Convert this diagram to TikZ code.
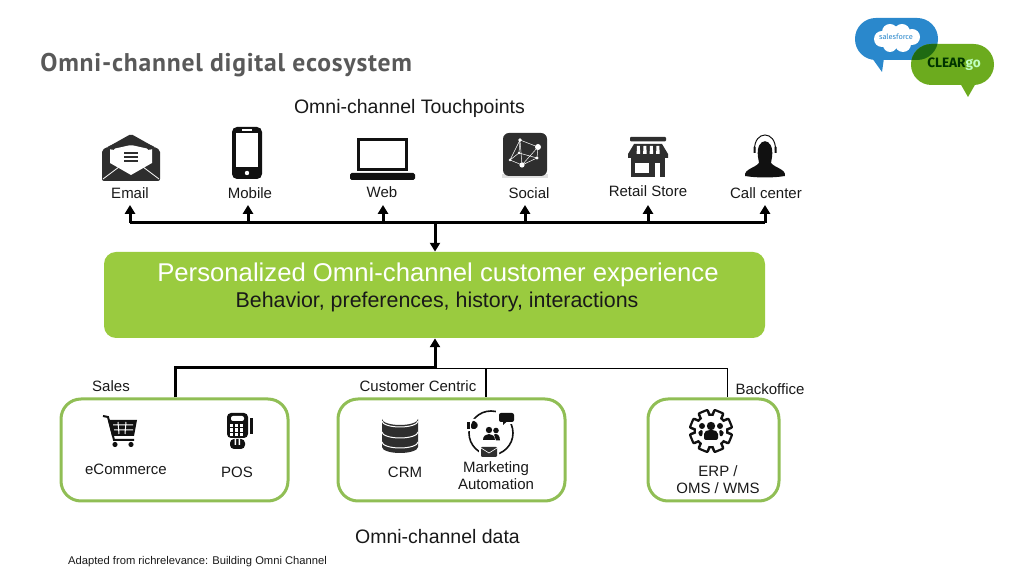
\documentclass[tikz,border=0pt]{standalone}
\usepackage{fontspec}
\setmainfont{Liberation Sans}
\newfontfamily\titleFont{PT Sans}[LetterSpace=3]
\newfontfamily\logoFont{Fira Sans}
\usetikzlibrary{arrows.meta, positioning}
\definecolor{expGreen}{HTML}{9ACB3F}
\definecolor{boxGreen}{HTML}{90BE55}
\definecolor{icon}{HTML}{111111}
\definecolor{iconGrey}{HTML}{2E2E2E}
\definecolor{sfBlue}{HTML}{2A88CC}
\definecolor{cgGreen}{HTML}{6CAB1E}
\definecolor{cgDark}{HTML}{1F6A12}
\tikzset{
    point/.style    = {coordinate},
    to/.style       = {-{Triangle[width=5pt,length=4.4pt]}, line width=1.5pt},
    bus/.style      = {line width=1.5pt},
    thin bus/.style = {line width=.5pt},
    label/.style    = {inner sep=0pt, font=\fontsize{7.5}{8.6}\selectfont, text=black!90, align=center},
    head/.style     = {inner sep=0pt, font=\fontsize{9.75}{11}\selectfont, text=black!90},
    group/.style    = {draw=boxGreen, line width=1.5pt, rounded corners=10pt, minimum height=51pt},
    pics/mail/.style = {code={
        \fill[iconGrey, rounded corners=1pt] (-29,-8) -- (-20,-13) -- (20,-13) -- (29,-8) -- (29,23) -- (-29,23) -- cycle;
        \fill[white] (-29,-13) -- (-21,-11) -- (21,-11) -- (29,-13) -- (21,-9) -- (21,5) -- (0,17) -- (-21,5) -- (-21,-9) -- cycle;
        \fill[iconGrey, rounded corners=1pt] (-25,-10) -- (0,-24) -- (25,-10) -- (18,-8) -- (-18,-8) -- cycle;
        \fill[white, rounded corners=1pt] (-18,-9) -- (0,-13) -- (18,-9) -- (18,5) -- (0,15) -- (-18,5) -- cycle;
        \foreach \y in {-5,-1,3} \draw[iconGrey, line width=.7pt] (-7,\y) -- (7,\y);
        \draw[white, line width=.4pt] (-28,21) -- (-12,9) (28,21) -- (12,9);
    }},
    pics/phone/.style = {code={
        \fill[icon, rounded corners=2.5pt] (-15,-26) rectangle (15,26);
        \fill[white] (-11,-20) rectangle (11,14);
        \draw[white, line width=.6pt] (-5,-23) -- (5,-23);
        \fill[white] (0,20) circle (2.2);
    }},
    pics/laptop/.style = {code={
        \draw[icon, line width=1.5pt] (-24,-17) rectangle (24,13);
        \fill[icon, rounded corners=.8pt] (-32,16) rectangle (33,23);
    }},
    pics/social/.style = {code={
        \fill[black!12] (-23,19) rectangle (23,23);
        \fill[iconGrey, rounded corners=3pt] (-22,-22) rectangle (22,21);
        \draw[white, line width=.25pt] (-15,5) -- (-5,-15) -- (13,-8) -- (-3,10) -- cycle
            (-5,-15) -- (-3,10) -- (12,3) -- (13,-8) (-15,5) -- (-6,-2) -- (12,3) (-6,-2) -- (-5,-15);
        \foreach \a/\b/\r in {-15/5/1.4,-5/-15/1.8,13/-8/3,-3/10/2.6,12/3/1.6,-6/-2/1.3}
            \fill[white] (\a,\b) circle (\r);
    }},
    pics/store/.style = {code={
        \fill[iconGrey, rounded corners=.5pt] (-18,-20) rectangle (18,-15.5);
        \fill[iconGrey] (-14,-13) -- (14,-13) -- (20,-3) -- (20,1) -- (-20,1) -- (-20,-3) -- cycle;
        \foreach \x in {-11,-4.5,2,8.5} \fill[white] (\x,-11) -- (\x+2.8,-11) -- (\x+3.2,-3) -- (\x-.4,-3) -- cycle;
        \fill[iconGrey] (-17,1) rectangle (17,20);
        \fill[white] (-13,6) rectangle (1,16);
        \fill[white] (7,6) rectangle (12,20);
    }},
    pics/agent/.style = {code={
        \fill[icon] (-20,20) .. controls (-21,13) and (-10,12) .. (-6,7) -- (-7,1) .. controls (-10,-20) and (10,-20) .. (7,1) -- (6,7) .. controls (10,12) and (21,13) .. (20,20) .. controls (8,22) and (-8,22) .. (-20,20) -- cycle;
        \draw[icon, line width=.5pt] (-10.5,-6) .. controls (-11,-26) and (11,-26) .. (10.5,-6);
        \fill[icon] (-11.5,-9) rectangle (-9.5,-3) (9.5,-9) rectangle (11.5,-3);
    }},
    pics/cart/.style = {code={
        \draw[icon, line width=1pt] (-17,-15) -- (-12,-14) -- (-6,9) -- (14,9);
        \fill[icon] (-12,-11) -- (17,-11) -- (14,5) -- (-8,5) -- cycle;
        \draw[white, line width=.5pt] (-7,-6) -- (13,-6) (-6,-1) -- (13,-1) (-2,-9) -- (-1,3) (6,-9) -- (5,3);
        \fill[icon] (-5,13.5) circle (2.6) (11,13.5) circle (2.6);
    }},
    pics/pos/.style = {code={
        \fill[icon, rounded corners=2pt] (-12,-18) rectangle (9,7);
        \fill[white, rounded corners=1pt] (-8,-15) rectangle (5,-10);
        \foreach \x in {-9,-4,1} \foreach \y in {-7,-2.5,2} \fill[white] (\x,\y) rectangle +(3.4,3.2);
        \fill[icon] (10.5,-13) rectangle (14,3);
        \fill[icon, rounded corners=2pt] (-9,8) rectangle (6,18);
        \fill[white] (-4.5,8) rectangle (-3,14) (-.5,8) rectangle (1,14);
    }},
    pics/crm/.style = {code={
        \fill[iconGrey] (-18,-14) -- (-18,14) arc (180:0:18 and 6) -- (18,-14) arc (0:180:18 and 6) -- cycle;
        \draw[white, line width=.5pt] (-18,-12) arc (180:0:18 and 6) (-18,-1) arc (180:0:18 and 6) (-18,9) arc (180:0:18 and 6);
    }},
    pics/marketing/.style = {code={
        \draw[icon, line width=.8pt] (0,0) circle (22);
        \fill[white] (-26,-14) rectangle (-11,-2) (5,-24) rectangle (25,-9) (-12,12) rectangle (8,26);
        \fill[icon] (-24,-11) rectangle (-21,-4);
        \fill[icon, rounded corners=1pt] (-20,-10) -- (-17,-13) -- (-16,-10) -- (-13,-10) -- (-14,-4) -- (-20,-4) -- cycle;
        \fill[icon, rounded corners=1pt] (8,-20) rectangle (23,-11);
        \fill[icon] (12,-11.5) -- (16,-11.5) -- (12,-8) -- cycle;
        \fill[iconGrey, rounded corners=.5pt] (-10,14) rectangle (6,24);
        \draw[white, line width=.3pt] (-10,15) -- (-2,20) -- (6,15);
        \fill[icon] (-2,-3) circle (3.2) (5,-2.5) circle (2.8);
        \fill[icon] (-8,7.5) .. controls (-8,-1) and (4,-1) .. (4,7.5) -- cycle;
        \fill[icon] (5,7.5) -- (9,7.5) .. controls (9,2) and (6,0) .. (3,1.5) -- cycle;
    }},
    pics/gear/.style = {code={
        \fill[icon] (0,0) circle (17.5);
        \foreach \a in {0,45,...,315} \fill[icon, rounded corners=1pt, rotate=\a+22.5] (-6,12) rectangle (6,22);
        \foreach \a in {0,45,...,315} \fill[white, rotate=\a+22.5] (-3.4,10) rectangle (3.4,19.7);
        \fill[white] (0,0) circle (15);
        \fill[icon] (0,-5) circle (4.2) (-9,-5) circle (3) (9,-5) circle (3);
        \fill[icon, rounded corners=1pt] (-7,9) -- (-7,1) -- (-3,-1) -- (3,-1) -- (7,1) -- (7,9) -- cycle;
        \fill[icon, rounded corners=1pt] (-13,4) -- (-12,-1) -- (-8,-1) -- (-9,6) -- cycle;
        \fill[icon, rounded corners=1pt] (13,4) -- (12,-1) -- (8,-1) -- (9,6) -- cycle;
    }},
}

\begin{document}
\begin{tikzpicture}[x=.5pt, y=-.5pt]
	\useasboundingbox (0,0) rectangle (1024,576);

	% title and logos
	\node (title) [anchor=west, inner sep=0pt, text=black!65, font=\titleFont\bfseries\fontsize{12.8}{14}\selectfont] at (40,65) {Omni-channel digital ecosystem};

	\fill[sfBlue, rounded corners=10.4pt] (855,18) rectangle (938,60);
	\fill[sfBlue] (872,58) -- (884,58) -- (882,72) -- cycle;
	\fill[cgGreen, rounded corners=10.2pt] (911,44) rectangle (994,85);
	\fill[cgGreen] (960,83) -- (976,83) -- (968,97) -- cycle;
	\begin{scope}
		\clip[rounded corners=10.4pt] (855,18) rectangle (938,60);
		\fill[cgDark, rounded corners=10.2pt] (911,44) rectangle (994,85);
	\end{scope}
	\fill[white] (897,38) ellipse (20 and 10) (882,39) circle (8) (890,32) circle (8) (902,32) circle (8) (912,37) circle (8) (903,44) circle (8) (890,45) circle (7);
	\node (sfLogo) [inner sep=0pt, text=sfBlue, font=\logoFont\fontsize{3.7}{5}\selectfont] at (896,37) {salesforce};
	\node (cgLogo) [inner sep=0pt, font=\logoFont\bfseries\fontsize{6.8}{7}\selectfont] at (954,64) {\textcolor{black!80!green}{CLEAR}\textcolor{white!75!green}{go}};

	% touchpoints
	\node (touch) [head] at (409.5,108) {Omni-channel Touchpoints};
	\pic at (131,158) {mail};
	\pic at (247,153) {phone};
	\pic at (382,157) {laptop};
	\pic at (525,155) {social};
	\pic at (648,157) {store};
	\pic at (765,156) {agent};

	\node (email)  [label] at (130,193) {Email};
	\node (mobile) [label] at (250,193) {Mobile};
	\node (web)    [label] at (382,192) {Web};
	\node (social) [label] at (529,193) {Social};
	\node (retail) [label] at (648,191) {Retail Store};
	\node (call)   [label] at (766,193) {Call center};

	% experience box
	\node (exp) [fill=expGreen, rounded corners=6pt, minimum width=330.5pt, minimum height=43pt] at (434.5,295) {};
	\node (expT) [inner sep=0pt, text=white, font=\fontsize{12.85}{14}\selectfont] at (438,275) {Personalized Omni-channel customer experience};
	\node (expS) [inner sep=0pt, text=black!90, font=\fontsize{10.7}{12}\selectfont] at (437,302) {Behavior, preferences, history, interactions};

	% data groups
	\node (sales) [group, minimum width=113.5pt] at (174.5,450) {};
	\node (cust)  [group, minimum width=113.5pt] at (451.5,450) {};
	\node (back)  [group, minimum width=65.5pt]  at (713.5,450) {};

	\node (lblSales) [label] at (111,386) {Sales};
	\node (lblCust)  [label] at (418,386) {Customer Centric};
	\node (lblBack)  [label] at (770,389) {Backoffice};

	\pic at (120,431) {cart};
	\pic at (239,431) {pos};
	\pic at (400,433) {crm};
	\pic at (491,433) {marketing};
	\pic at (711,431) {gear};

	\node (ecom) [label] at (126,469) {eCommerce};
	\node (pos)  [label] at (237,472) {POS};
	\node (crm)  [label] at (405,472) {CRM};
	\node (mkt)  [label] at (496,476) {Marketing\\Automation};
	\node (erp)  [label] at (718,480) {ERP /\\OMS / WMS};

	\node (dataLbl) [head] at (437.5,537) {Omni-channel data};
	\node (source) [inner sep=0pt, text=black!90, font=\fontsize{5.6}{7}\selectfont] at (197.5,562) {Adapted from richrelevance: Building Omni Channel};

	% top bus
	\coordinate (busL) at (130,223);
	\coordinate (busR) at (765,223);
	\coordinate (busM) at (435,223);
	\draw [bus] (busL) -- (busR);
	\foreach \n/\x in {email/130, mobile/248, web/383, social/525, retail/648, call/765} {
		\coordinate (drop\n) at (\x,223);
		\coordinate (tip\n) at (\x,205);
		\draw [to] (drop\n) -- (tip\n);
	}
	\draw [to] (busM) -- (busM |- exp.north);

	% bottom bus
	\coordinate (midB) at (435,368);
	\coordinate (busS) at (175,368);
	\coordinate (busB) at (727,369);
	\coordinate (busC) at (486,369);
	\draw [bus] (sales.north -| busS) -- (busS) -- (midB);
	\draw [to] (midB) -- (midB |- exp.south);
	\draw [thin bus] (midB |- busB) -- (busB) -- (busB |- back.north);
	\draw [line width=1.2pt] (busC) -- (busC |- cust.north);
\end{tikzpicture}
\end{document}
